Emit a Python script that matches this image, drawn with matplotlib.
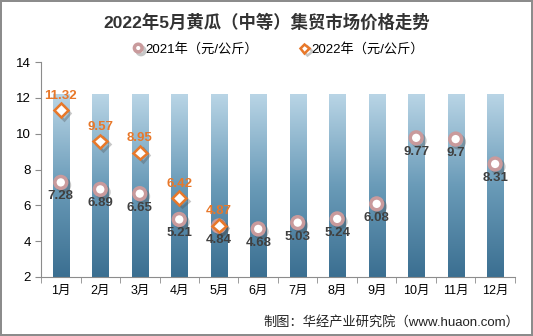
import numpy as np
import matplotlib.pyplot as plt
from matplotlib.colors import LinearSegmentedColormap
import matplotlib.patheffects as pe

plt.rcParams['font.family'] = ['Liberation Sans', 'Noto Sans CJK SC']

# data
months = ['1月', '2月', '3月', '4月', '5月', '6月', '7月', '8月', '9月', '10月', '11月', '12月']
price_2021 = [7.28, 6.89, 6.65, 5.21, 4.84, 4.68, 5.03, 5.24, 6.08, 9.77, 9.7, 8.31]
price_2022 = [11.32, 9.57, 8.95, 6.42, 4.87]
bar_top = 12.2

fig = plt.figure(figsize=(5.33, 3.36), dpi=100)
fig.patch.set_edgecolor('#8c8c8c')
fig.patch.set_linewidth(1.5)
ax = fig.add_axes([0.077, 0.176, 0.889, 0.639])

x = np.arange(len(months))
bw = 0.41
cmap = LinearSegmentedColormap.from_list('bars', ['#3b6f91', '#6a9bb8', '#b9d5e6'])
grad = np.linspace(0, 1, 256).reshape(-1, 1)
for xi in x:
    ax.imshow(grad, extent=[xi - bw / 2, xi + bw / 2, 2, bar_top], origin='lower',
              aspect='auto', cmap=cmap, zorder=1)

# shadows
shadow = [pe.SimpleLineShadow(offset=(2, -2), shadow_color='#444444', alpha=0.3), pe.Normal()]
ax.plot(x, price_2021, 'o', ms=8.5, mfc='white', mec='#c99a9c', mew=2.5, zorder=3,
        path_effects=shadow, label='2021年（元/公斤）')
ax.plot(x[:len(price_2022)], price_2022, 'D', ms=7, mfc='white', mec='#e8782a', mew=1.8,
        zorder=3, path_effects=shadow, label='2022年（元/公斤）')

for xi, v in zip(x, price_2021):
    ax.text(xi, v - 0.45, f'{v:g}', ha='center', va='top', fontsize=9.5,
            fontweight='bold', color='#404040')
for xi, v in zip(x, price_2022):
    ax.text(xi, v + 0.45, f'{v:g}', ha='center', va='bottom', fontsize=9.5,
            fontweight='bold', color='#e8782a')

ax.set_xlim(-0.5, len(months) - 0.5)
ax.set_ylim(2, 14)
ax.set_yticks(np.arange(2, 15, 2))
ax.set_xticks(x)
ax.set_xticklabels(months, fontsize=9)
ax.set_xticks(np.arange(-0.5, len(months), 1), minor=True)
ax.tick_params(axis='x', which='major', length=0, pad=6)
ax.tick_params(axis='x', which='minor', length=4, color='#8c8c8c')
ax.tick_params(axis='y', length=4, color='#8c8c8c', labelsize=9.5)
for s in ['top', 'right']:
    ax.spines[s].set_visible(False)
for s in ['left', 'bottom']:
    ax.spines[s].set_color('#8c8c8c')

fig.text(0.5, 0.935, '2022年5月黄瓜（中等）集贸市场价格走势', ha='center', va='center',
         fontsize=12.5, fontweight='bold', color='#333333')
leg = ax.legend(loc='lower center', bbox_to_anchor=(0.5, 0.975), ncol=2, frameon=False,
                fontsize=9.5, handletextpad=0.05, columnspacing=3, handlelength=1.0,
                markerscale=0.65)
fig.text(0.975, 0.04, '制图：华经产业研究院（www.huaon.com）', ha='right', va='center',
         fontsize=9.5, color='#222222')

fig.savefig('out.png', dpi=100)
